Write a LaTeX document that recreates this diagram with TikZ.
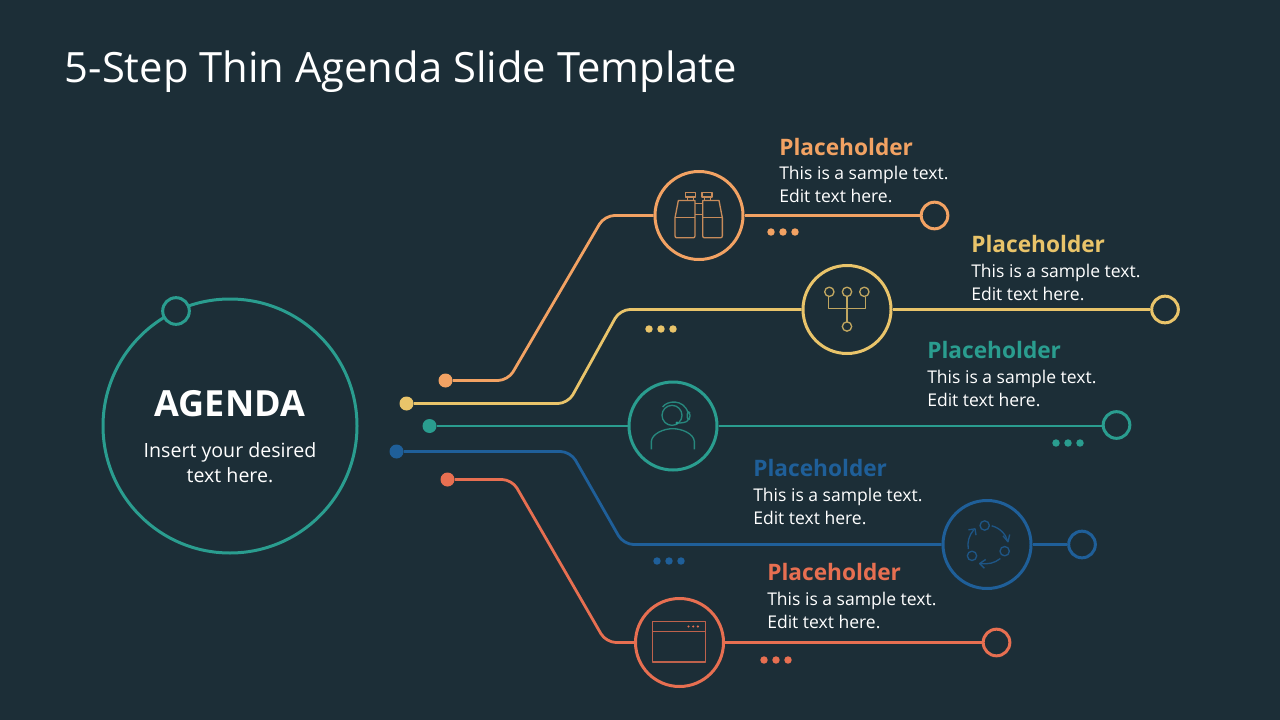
\documentclass[tikz,border=0pt]{standalone}
\usepackage{fontspec}
\setmainfont{Open Sans}
\definecolor{bgc}{HTML}{1C2E37}
\definecolor{co}{HTML}{F2A263}
\definecolor{cy}{HTML}{E9C46A}
\definecolor{ct}{HTML}{2A9D8F}
\definecolor{cb}{HTML}{1F5F99}
\definecolor{cr}{HTML}{E76F51}
\newcommand{\sz}[1]{\fontsize{#1pt}{#1pt}\selectfont}
\tikzset{
  x=0.75pt,y=-0.75pt,
  hubnode/.style={circle,draw=#1,line width=2.25pt,minimum size=66pt,inner sep=0pt,fill=bgc},
  ringnode/.style={circle,draw=#1,line width=2.25pt,minimum size=20pt,inner sep=0pt,fill=bgc},
  dotnode/.style={circle,fill=#1,minimum size=10.5pt,inner sep=0pt},
  tinydot/.style={circle,fill=#1,minimum size=5.6pt,inner sep=0pt},
  wire/.style={draw=#1,line width=2.1pt,rounded corners=7.5pt},
  icon/.style={draw=#1!80!bgc,line width=1pt,line join=round,x=0.25pt,y=-0.25pt},
  headtext/.style={anchor=base west,inner sep=0pt,text=#1,font=\sz{17}\bfseries},
  bodytext/.style={anchor=base west,inner sep=0pt,text=white,font=\sz{13.15}},
}
\begin{document}
\begin{tikzpicture}
\useasboundingbox (0,0) rectangle (1280,720);
\fill[bgc] (0,0) rectangle (1280,720);
\node[anchor=base west,inner sep=0pt,text=white,font=\sz{31.3}] (title) at (64.5,83) {5-Step Thin Agenda Slide Template};
% main circle
\node[circle,draw=ct,line width=2.25pt,minimum size=190.5pt,inner sep=0pt] (main) at (230,426) {};
\node[ringnode=ct] (mainring) at (176,311) {};
\node[anchor=base,inner sep=0pt,text=white,font=\sz{27}\bfseries] (agenda) at (230,416) {AGENDA};
\node[anchor=base,inner sep=0pt,text=white,font=\sz{14.7}] (ins1) at (230,457) {Insert your desired};
\node[anchor=base,inner sep=0pt,text=white,font=\sz{14.7}] (ins2) at (230,482) {text here.};
% nodes
\node[dotnode=co] (d1) at (445.5,380.5) {};
\node[dotnode=cy] (d2) at (406.5,403.5) {};
\node[dotnode=ct] (d3) at (429.5,426) {};
\node[dotnode=cb] (d4) at (396.5,451.5) {};
\node[dotnode=cr] (d5) at (447.5,479.5) {};
\node[hubnode=co] (h1) at (699,215.5) {};
\node[hubnode=cy] (h2) at (847,309.5) {};
\node[hubnode=ct] (h3) at (673,426) {};
\node[hubnode=cb] (h4) at (987,544.5) {};
\node[hubnode=cr] (h5) at (679.5,642.5) {};
\node[ringnode=co] (r1) at (934.5,215.5) {};
\node[ringnode=cy] (r2) at (1165,309.5) {};
\node[ringnode=ct] (r3) at (1116.5,425) {};
\node[ringnode=cb] (r4) at (1082,544.5) {};
\node[ringnode=cr] (r5) at (996.5,642.5) {};
% connectors
\draw[wire=co] (d1) -- (508,380.5) -- (604.5,215.5) -- (h1);
\draw[wire=cy] (d2) -- (568,403.5) -- (620,309.5) -- (h2);
\draw[wire=ct] (d3) -- (h3);
\draw[wire=cb] (d4) -- (570.5,451.5) -- (623.5,544.5) -- (h4);
\draw[wire=cr] (d5) -- (512,479.5) -- (606,642.5) -- (h5);
\draw[wire=co] (h1) -- (r1);
\draw[wire=cy] (h2) -- (r2);
\draw[wire=ct] (h3) -- (h3 -| r3.west);
\draw[wire=cb] (h4) -- (r4);
\draw[wire=cr] (h5) -- (r5);
% tiny dots
\foreach \i/\cx/\cy/\cc in {a/771/232/co,b/783/232/co,c/795/232/co,d/649/329/cy,e/661/329/cy,f/673/329/cy,g/1056/443/ct,h/1068/443/ct,i/1080/443/ct,j/657/561/cb,k/669/561/cb,l/681/561/cb,m/764/660/cr,n/776/660/cr,o/788/660/cr}
  \node[tinydot=\cc] (td\i) at (\cx,\cy) {};
% icons
\begin{scope}[shift={(h1.center)}]
\begin{scope}[icon=co,shift={(-175,-165)}]
\draw (163,120) -- (113,120) -- (103,172) -- (103,226) .. controls (103,230) and (105,232) .. (109,232) -- (157,232) .. controls (161,232) and (163,230) .. (163,226) -- cycle;
\draw (103,172) -- (163,172);
\draw (186,120) -- (235,120) -- (245,172) -- (245,226) .. controls (245,230) and (243,232) .. (239,232) -- (192,232) .. controls (188,232) and (186,230) .. (186,226) -- cycle;
\draw (186,172) -- (245,172);
\draw (135,97) rectangle (165,110) (140,110) rectangle (158,120);
\draw (184,97) rectangle (214,110) (191,110) rectangle (209,120);
\draw (163,130) -- (186,130) (163,163) -- (186,163);
\end{scope}
\end{scope}
\begin{scope}[shift={(h2.center)}]
\begin{scope}[icon=cy,shift={(-170,-165)}]
\draw (117,112) circle[radius=14] (170,112) circle[radius=14] (222,112) circle[radius=14] (170,216) circle[radius=14];
\draw (114,126) -- (114,162) -- (225,162) -- (225,126) (170,126) -- (170,202);
\end{scope}
\end{scope}
\begin{scope}[shift={(h3.center)}]
\begin{scope}[icon=ct,shift={(-173,-162)}]
\draw (170,130) circle[radius=30];
\draw (142,105) .. controls (155,85) and (205,80) .. (218,122);
\draw[rounded corners=2pt] (216,118) -- (224,122) -- (224,140) -- (216,145) -- cycle;
\draw (218,145) .. controls (212,152) and (200,153) .. (186,153);
\fill[ct] (185,153) circle[radius=5];
\draw (108,232) -- (108,208) .. controls (110,185) and (145,170) .. (172,170) .. controls (200,170) and (235,185) .. (237,208) -- (237,232);
\end{scope}
\end{scope}
\begin{scope}[shift={(h4.center)}]
\begin{scope}[icon=cb,shift={(-172,-162)}]
\draw (165,105) circle[radius=14] (225,182) circle[radius=14] (127,196) circle[radius=14];
\draw (186,106) .. controls (210,112) and (228,130) .. (234,152);
\draw (220,136) -- (235,154) -- (240,132);
\draw (212,204) .. controls (195,218) and (175,222) .. (152,219);
\draw (168,207) -- (150,219) -- (164,233);
\draw (116,176) .. controls (112,155) and (118,135) .. (132,118);
\draw (116,118) -- (136,115) -- (139,134);
\end{scope}
\end{scope}
\begin{scope}[shift={(h5.center)}]
\begin{scope}[icon=cr,shift={(-165,-158)}]
\draw (83,95) rectangle (242,216);
\draw (83,125) -- (242,125);
\fill[cr] (192,110) circle[radius=3.5] (206,110) circle[radius=3.5] (220,110) circle[radius=3.5];
\end{scope}
\end{scope}
% texts
\foreach \n/\cx/\cy/\cc in {1/780/154/co,2/972/251/cy,3/928/357/ct,4/754/475/cb,5/768/579/cr}{
  \node[headtext=\cc] (ph\n) at (\cx-1,\cy+1.5) {Placeholder};
  \node[bodytext] (ta\n) at (\cx-1,\cy+26) {This is a sample text.};
  \node[bodytext] (tb\n) at (\cx-1,\cy+49) {Edit text here.};
}
\end{tikzpicture}
\end{document}
